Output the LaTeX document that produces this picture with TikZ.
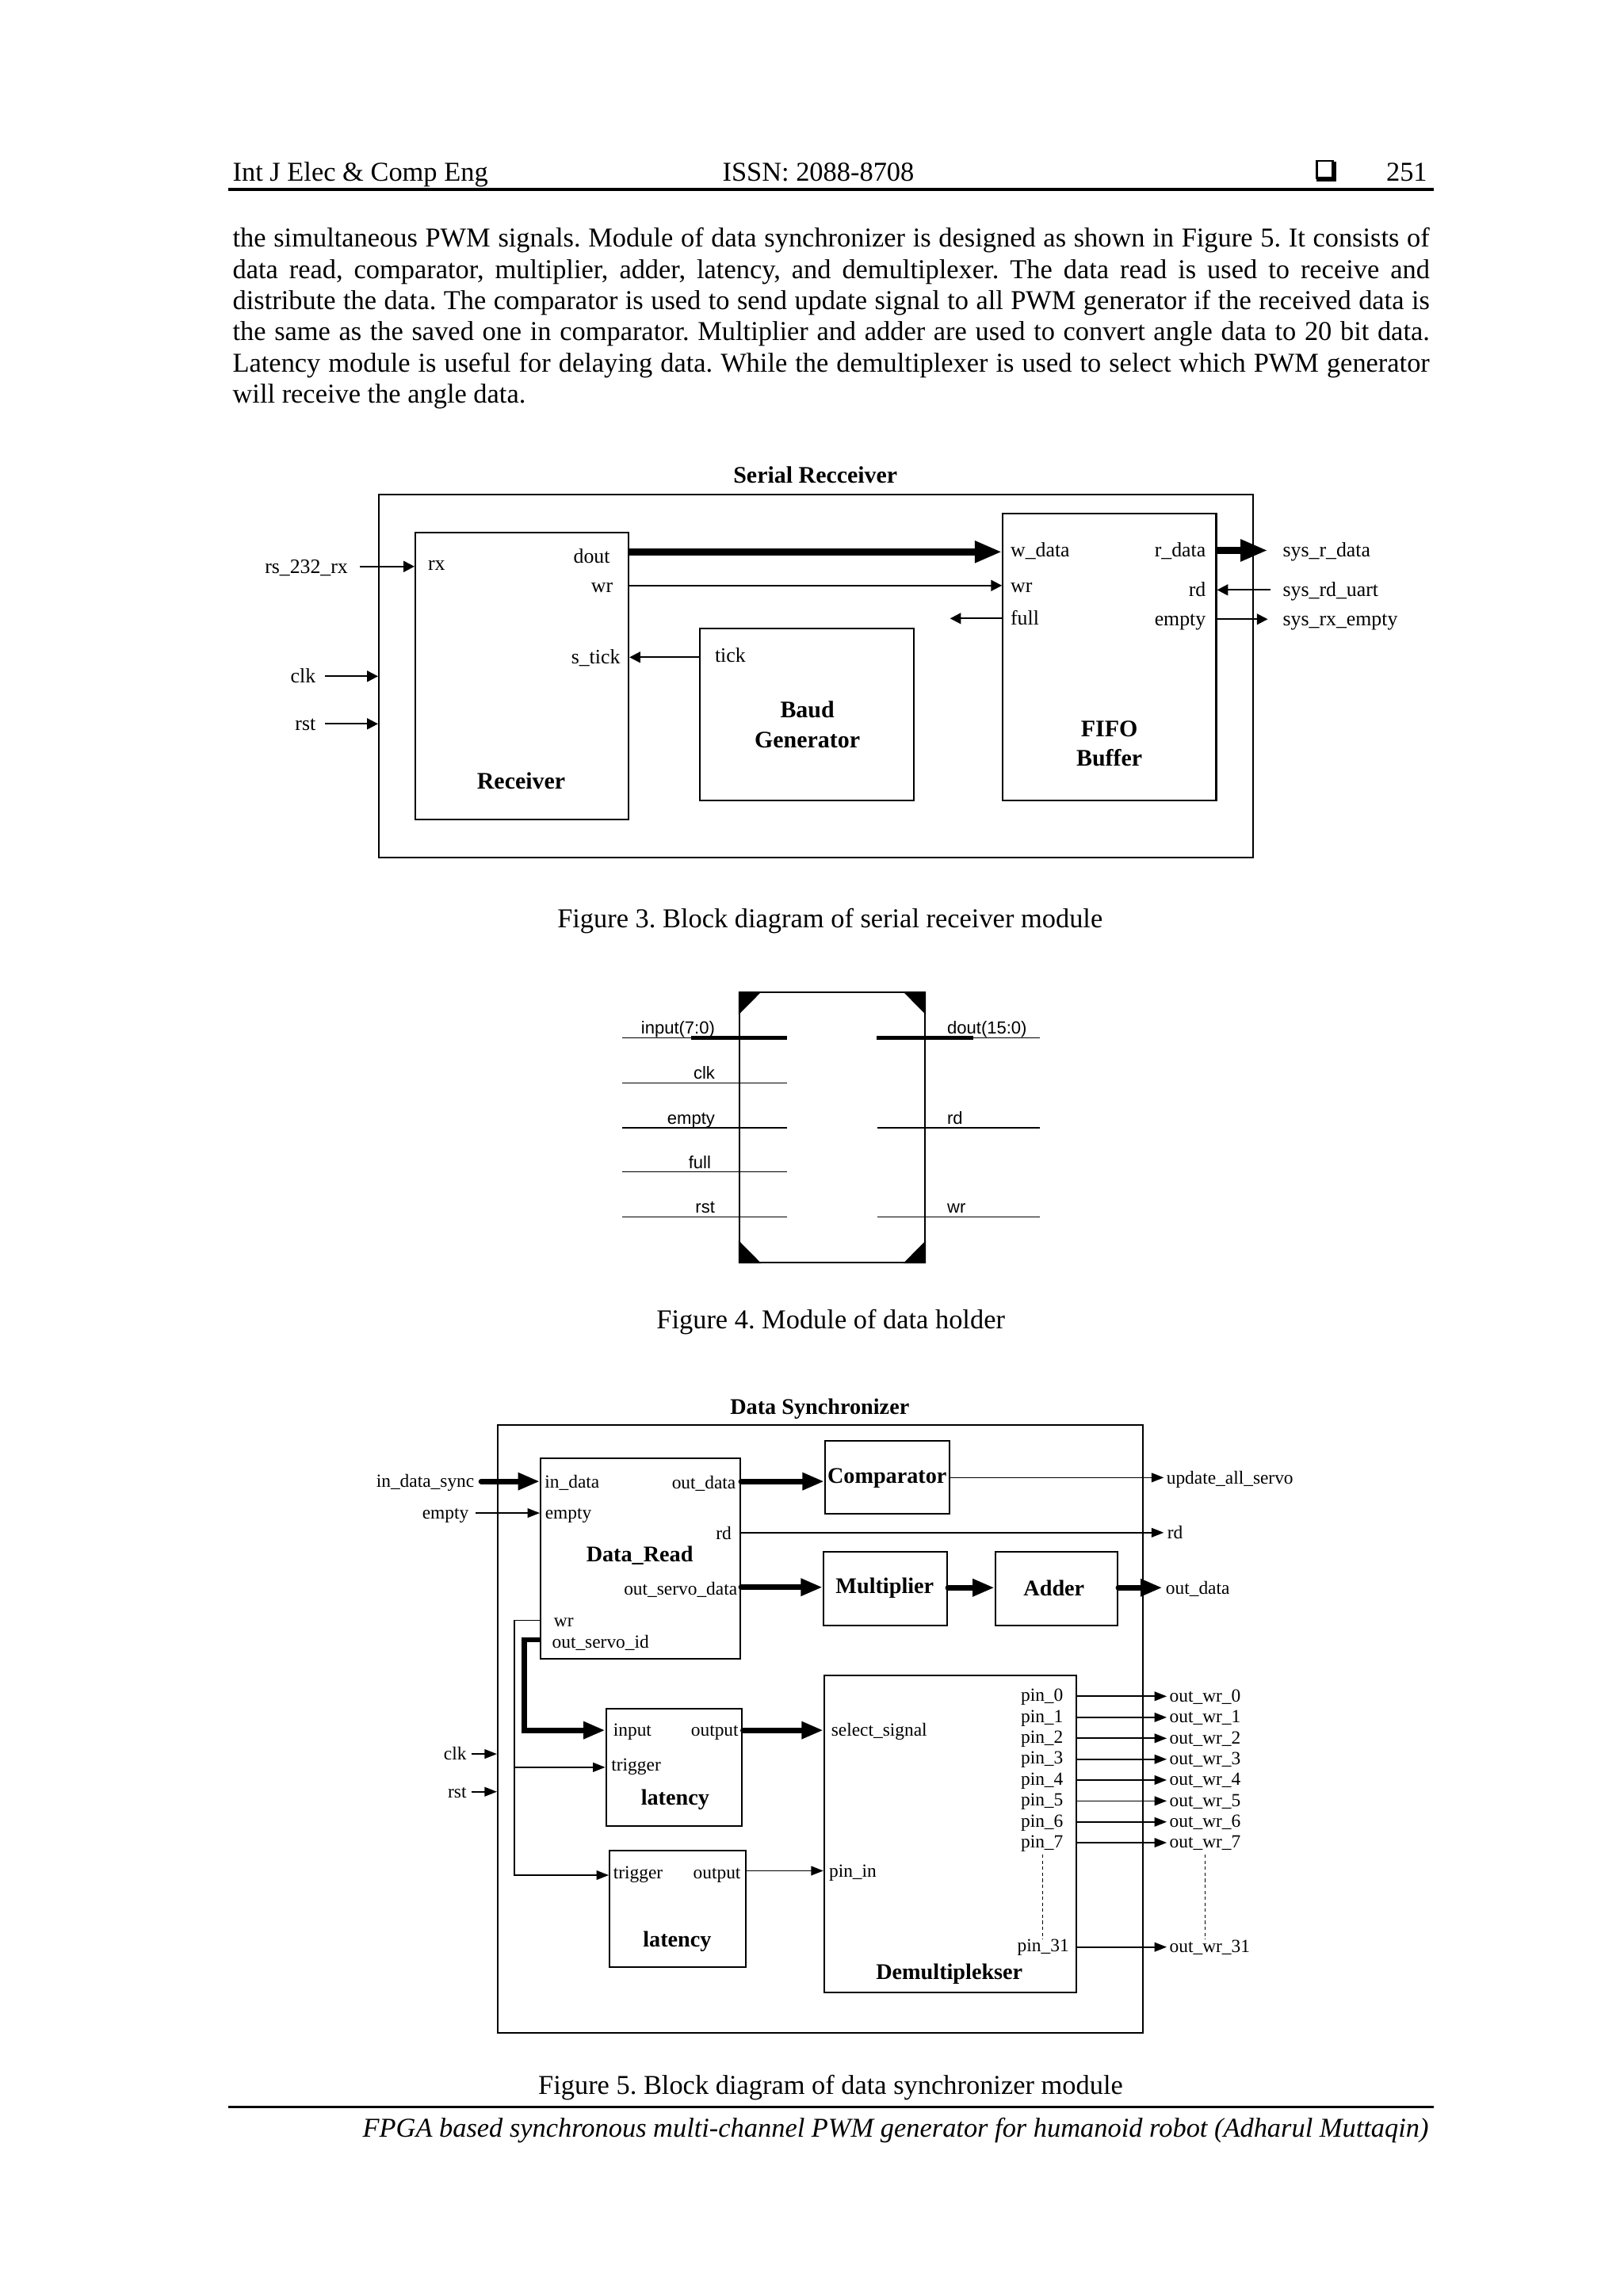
\documentclass[tikz,border=0pt]{standalone}
\usepackage{fontspec}
\setmainfont{Liberation Serif}
\newfontfamily\arialf{Liberation Sans}
\usetikzlibrary{arrows.meta,fit,calc}
\newcommand{\jl}[1]{\makebox[438.9pt][s]{#1}}
\frenchspacing
\begin{document}
\begin{tikzpicture}[x=0.5368pt,y=-0.5368pt,
  box/.style={draw, line width=0.6pt, inner sep=0pt},
  lbl/.style={inner sep=0pt, font=\fontsize{7.5}{9}\selectfont, text height=5.7pt, text depth=0.8pt},
  lblb/.style={inner sep=0pt, font=\fontsize{8.7}{11}\selectfont\bfseries, align=center},
  slbl/.style={inner sep=0pt, font=\fontsize{6.8}{8}\selectfont, text height=5.2pt, text depth=0.7pt},
  slblb/.style={inner sep=0pt, font=\fontsize{8.2}{10}\selectfont\bfseries},
  albl/.style={inner sep=0pt, font=\arialf\fontsize{6.4}{7.5}\selectfont},
  body/.style={inner sep=0pt, font=\fontsize{10}{11.5}\selectfont, text height=7.6pt, text depth=1.0pt},
  wire/.style={line width=0.6pt},
  arr/.style={line width=0.6pt, -{Triangle[length=4pt,width=4pt]}},
  bus/.style={line width=2.6pt, -{Triangle[length=10pt,width=7.5pt]}},
  swire/.style={line width=0.5pt},
  sarr/.style={line width=0.5pt, -{Triangle[length=4.5pt,width=3.4pt]}},
  sbus/.style={line width=2pt, line cap=round, -{Triangle[length=8pt,width=6pt]}},
  pin/.style={line width=0.45pt},
  pinbus/.style={line width=1.3pt},
  corner/.style={fill=black},
  dots/.style={line width=0.4pt, dash pattern=on 1.2pt off 1pt},
]
\useasboundingbox (0,0) rectangle (1109,1568.5);

% ---------------- header ----------------
\node[body, anchor=west] (hleft) at (158.6,117.6) {Int J Elec \& Comp Eng};
\node[body] (hmid) at (559,117.6) {ISSN: 2088-8708};
\node[body, anchor=east] (hpage) at (975.3,117.6) {251};
\draw[line width=0.7pt] (899.5,110) rectangle (910.8,121.5);
\draw[line width=1.6pt] (911.2,110.5) -- (911.2,122.4) -- (899.5,122.4);
\draw[line width=0.9pt] (155.8,129.4) -- (979.5,129.4);

% ---------------- paragraph ----------------
\node[body, anchor=west] (p1) at (158.6,162.6) {\jl{the simultaneous PWM signals. Module of data synchronizer is designed as shown in Figure 5. It consists of}};
\node[body, anchor=west] (p2) at (158.6,183.9) {\jl{data read, comparator, multiplier, adder, latency, and demultiplexer. The data read is used to receive and}};
\node[body, anchor=west] (p3) at (158.6,205.2) {\jl{distribute the data. The comparator is used to send update signal to all PWM generator if the received data is}};
\node[body, anchor=west] (p4) at (158.6,226.5) {\jl{the same as the saved one in comparator. Multiplier and adder are used to convert angle data to 20 bit data.}};
\node[body, anchor=west] (p5) at (158.6,247.8) {\jl{Latency module is useful for delaying data. While the demultiplexer is used to select which PWM generator}};
\node[body, anchor=west] (p6) at (158.6,269.1) {will receive the angle data.};

% ================= Figure 3 =================
\node[lblb] (t3) at (557,324.5) {Serial Recceiver};
\node[box, fit={(258.8,337.8)(855.9,585.8)}] (sr) {};
\node[box, fit={(283.7,364)(429.4,560)}] (recv) {};
\node[box, fit={(478,429.5)(624,546.6)}] (baud) {};
\node[box, fit={(685,351)(830.8,546.6)}] (fifo) {};

\node[lblb] (recvT) at (356,533.3) {Receiver};
\node[lblb] (baudT) at (551.5,495) {Baud\\Generator};
\node[lblb, font=\fontsize{8.7}{10.8}\selectfont\bfseries] (fifoT) at (757.8,508) {FIFO\\Buffer};

\node[lbl, anchor=east] (lrs) at (238,387) {rs\_232\_rx};
\node[lbl, anchor=west] (lrx) at (292,385) {rx};
\node[lbl, anchor=east] (ldout) at (417,380) {dout};
\node[lbl, anchor=east] (lwr) at (419,400) {wr};
\node[lbl, anchor=east] (lstick) at (424,449) {s\_tick};
\node[lbl, anchor=west] (ltick) at (488,448) {tick};
\node[lbl, anchor=west] (lwdata) at (690,376) {w\_data};
\node[lbl, anchor=west] (lfwr) at (690,400) {wr};
\node[lbl, anchor=west] (lfull) at (690,422.5) {full};
\node[lbl, anchor=east] (lrdata) at (824,376) {r\_data};
\node[lbl, anchor=east] (lrd) at (824,403) {rd};
\node[lbl, anchor=east] (lempty) at (824,423) {empty};
\node[lbl, anchor=west] (lsysr) at (876,376) {sys\_r\_data};
\node[lbl, anchor=west] (lsysrd) at (876,403) {sys\_rd\_uart};
\node[lbl, anchor=west] (lsysem) at (876,423) {sys\_rx\_empty};
\node[lbl, anchor=east] (lclk) at (216,462) {clk};
\node[lbl, anchor=east] (lrst) at (216,494.5) {rst};

\coordinate (c_rs) at (246,387);
\coordinate (y_dout) at (0,377);
\coordinate (y_wr) at (0,400);
\coordinate (y_tick) at (0,449);
\coordinate (c_full) at (649,422.5);
\coordinate (c_rdata) at (866,376);
\coordinate (c_rd) at (868,403);
\coordinate (c_empty) at (866,423);
\coordinate (c_clk) at (222,462);
\coordinate (c_rst) at (222,494.5);

\draw[arr] (c_rs) -- (recv.west |- c_rs);
\draw[bus] (recv.east |- y_dout) -- (fifo.west |- y_dout);
\draw[arr] (recv.east |- y_wr) -- (fifo.west |- y_wr);
\draw[arr] (baud.west |- y_tick) -- (recv.east |- y_tick);
\draw[arr] (fifo.west |- c_full) -- (c_full);
\draw[bus] (fifo.east |- c_rdata) -- (c_rdata);
\draw[arr] (c_rd) -- (fifo.east |- c_rd);
\draw[arr] (fifo.east |- c_empty) -- (c_empty);
\draw[arr] (c_clk) -- (sr.west |- c_clk);
\draw[arr] (c_rst) -- (sr.west |- c_rst);

\node[body] (cap3) at (567,627.5) {Figure 3. Block diagram of serial receiver module};

% ================= Figure 4 =================
\node[draw, line width=0.5pt, inner sep=0pt, fit={(505,678)(632,862.6)}] (holder) {};
\fill[corner] (holder.north west) -- ++(15.5,0) -- ++(-15.5,15.7) -- cycle;
\fill[corner] (holder.north east) -- ++(-15.5,0) -- ++(15.5,15.7) -- cycle;
\fill[corner] (holder.south west) -- ++(15.5,0) -- ++(-15.5,-15.7) -- cycle;
\fill[corner] (holder.south east) -- ++(-15.5,0) -- ++(15.5,-15.7) -- cycle;

\foreach \yy in {709,739.8,770.3,800.6,831.4}{
  \draw[pin] (425,\yy) -- (537.4,\yy);
}
\foreach \yy in {709,770.3,831.4}{
  \draw[pin] (599.4,\yy) -- (710.4,\yy);
}
\draw[pinbus] (472,709) -- (537.4,709);
\draw[pinbus] (599,709) -- (665,709);

\node[albl, anchor=base east] (a_in) at (488.7,706.5) {input(7:0)};
\node[albl, anchor=base east] (a_clk) at (488.7,737.3) {clk};
\node[albl, anchor=base east] (a_empty) at (488.7,767.8) {empty};
\node[albl, anchor=base east] (a_full) at (486,798.3) {full};
\node[albl, anchor=base east] (a_rst) at (488.7,828.9) {rst};
\node[albl, anchor=base west] (a_dout) at (646.7,706.5) {dout(15:0)};
\node[albl, anchor=base west] (a_rd) at (646.7,767.8) {rd};
\node[albl, anchor=base west] (a_wr) at (646.7,828.9) {wr};

\node[body] (cap4) at (567.5,901.5) {Figure 4. Module of data holder};

% ================= Figure 5 =================
\node[slblb] (t5) at (560,962.5) {Data Synchronizer};
\node[box, line width=0.6pt, fit={(340,973.3)(780.9,1388.7)}] (ds) {};
\node[box, fit={(369.3,996)(505.7,1133)}] (dr) {};
\node[box, fit={(563.6,984.5)(648.5,1034)}] (cmp) {};
\node[box, fit={(562.5,1060)(647,1110.5)}] (mul) {};
\node[box, fit={(679.9,1060)(763.4,1110.5)}] (add) {};
\node[box, fit={(414,1167.3)(507,1247.3)}] (lat1) {};
\node[box, fit={(416.4,1264.3)(509.3,1344)}] (lat2) {};
\node[box, fit={(563,1144.5)(735.3,1361.3)}] (dmx) {};

\node[slblb] (drT) at (437,1062.5) {Data\_Read};
\node[slblb] (cmpT) at (606,1010) {Comparator};
\node[slblb] (mulT) at (604.4,1085) {Multiplier};
\node[slblb] (addT) at (720,1085) {Adder};
\node[slblb] (lat1T) at (461.2,1229.6) {latency};
\node[slblb] (lat2T) at (462.6,1326.2) {latency};
\node[slblb] (dmxT) at (648.5,1348.6) {Demultiplekser};

\node[slbl, anchor=east] (s_ids) at (324.3,1012) {in\_data\_sync};
\node[slbl, anchor=east] (s_emp) at (320.5,1033.6) {empty};
\node[slbl, anchor=west] (s_ind) at (371.8,1012.5) {in\_data};
\node[slbl, anchor=west] (s_emp2) at (372,1033.6) {empty};
\node[slbl, anchor=east] (s_outd) at (503,1013) {out\_data};
\node[slbl, anchor=east] (s_rd) at (500,1047.3) {rd};
\node[slbl, anchor=east] (s_osd) at (504,1085.5) {out\_servo\_data};
\node[slbl, anchor=west] (s_wr) at (378,1107.2) {wr};
\node[slbl, anchor=west] (s_osi) at (376.8,1121.6) {out\_servo\_id};
\node[slbl, anchor=west] (s_upd) at (796.5,1009.4) {update\_all\_servo};
\node[slbl, anchor=west] (s_rdo) at (797,1047) {rd};
\node[slbl, anchor=west] (s_outo) at (796,1084.6) {out\_data};
\node[slbl, anchor=east] (s_clk) at (319,1198.2) {clk};
\node[slbl, anchor=east] (s_rst) at (319,1224) {rst};
\node[slbl, anchor=west] (s_in1) at (418.6,1182) {input};
\node[slbl, anchor=east] (s_out1) at (504.8,1182) {output};
\node[slbl, anchor=west] (s_trg1) at (417.3,1205.5) {trigger};
\node[slbl, anchor=west] (s_trg2) at (418.6,1279) {trigger};
\node[slbl, anchor=east] (s_out2) at (506.3,1279) {output};
\node[slbl, anchor=west] (s_sel) at (567.5,1182) {select\_signal};
\node[slbl, anchor=west] (s_pin) at (566,1278) {pin\_in};

\foreach \k/\yy in {0/1158.8,1/1173.2,2/1187.5,3/1201.8,4/1216.0,5/1230.3,6/1244.6,7/1258.8}{
  \node[slbl, anchor=east] (pin\k) at (726.6,\yy-0.8) {pin\_\k};
  \node[slbl, anchor=west] (owr\k) at (798.6,\yy-0.5) {out\_wr\_\k};
  \coordinate (cp\k) at (797,\yy);
  \draw[sarr] (dmx.east |- cp\k) -- (cp\k);
}
\node[slbl, anchor=east] (pin31) at (730.6,1329.3) {pin\_31};
\node[slbl, anchor=west] (owr31) at (798.6,1329.6) {out\_wr\_31};
\coordinate (cp31) at (797,1330.1);
\draw[sarr] (dmx.east |- cp31) -- (cp31);
\draw[dots] (712.2,1267) -- (712.2,1324.7);
\draw[dots] (823.2,1267) -- (823.2,1324.7);

\coordinate (c_ids) at (328.7,1012);
\coordinate (c_emp) at (324.8,1033.6);
\coordinate (c_upd) at (795,1009.4);
\coordinate (c_rdo) at (795,1047);
\coordinate (c_osd) at (0,1084.3);
\coordinate (c_ma) at (0,1084.6);
\coordinate (c_outo) at (794,1084.6);
\coordinate (c_wr) at (0,1107);
\coordinate (c_wrx) at (351.3,1107);
\coordinate (c_wrb) at (351.3,1207.3);
\coordinate (c_wre) at (351.3,1281);
\coordinate (c_osi) at (0,1120.2);
\coordinate (c_osix) at (358,1120.2);
\coordinate (c_osie) at (358,1182);
\coordinate (c_lat2) at (0,1278);
\coordinate (c_clk5) at (322,1198.2);
\coordinate (c_rst5) at (322,1224);

\draw[sbus] (c_ids) -- (dr.west |- c_ids);
\draw[sarr] (c_emp) -- (dr.west |- c_emp);
\draw[sbus] (dr.east |- c_ids) -- (cmp.west |- c_ids);
\draw[sarr] (cmp.east |- c_upd) -- (c_upd);
\draw[sarr] (dr.east |- c_rdo) -- (c_rdo);
\draw[sbus] (dr.east |- c_osd) -- (mul.west |- c_osd);
\draw[sbus] (mul.east |- c_ma) -- (add.west |- c_ma);
\draw[sbus] (add.east |- c_outo) -- (c_outo);
\draw[sarr] (dr.west |- c_wr) -- (c_wrx) -- (c_wre) -- (lat2.west |- c_wre);
\draw[sarr] (c_wrb) -- (lat1.west |- c_wrb);
\draw[sbus, line cap=butt] (dr.west |- c_osi) -- (c_osix) -- (c_osie) -- (lat1.west |- c_osie);
\draw[sbus] (lat1.east |- c_osie) -- (dmx.west |- c_osie);
\draw[sarr] (lat2.east |- c_lat2) -- (dmx.west |- c_lat2);
\draw[sarr] (c_clk5) -- (ds.west |- c_clk5);
\draw[sarr] (c_rst5) -- (ds.west |- c_rst5);

\node[body] (cap5) at (567.4,1424.5) {Figure 5. Block diagram of data synchronizer module};

% ---------------- footer ----------------
\draw[line width=0.9pt] (155.8,1439.2) -- (979.5,1439.2);
\node[body, anchor=east, font=\fontsize{10}{11.5}\selectfont\itshape] (foot) at (976.3,1453.7) {FPGA based synchronous multi-channel PWM generator for humanoid robot (Adharul Muttaqin)};
\end{tikzpicture}
\end{document}
